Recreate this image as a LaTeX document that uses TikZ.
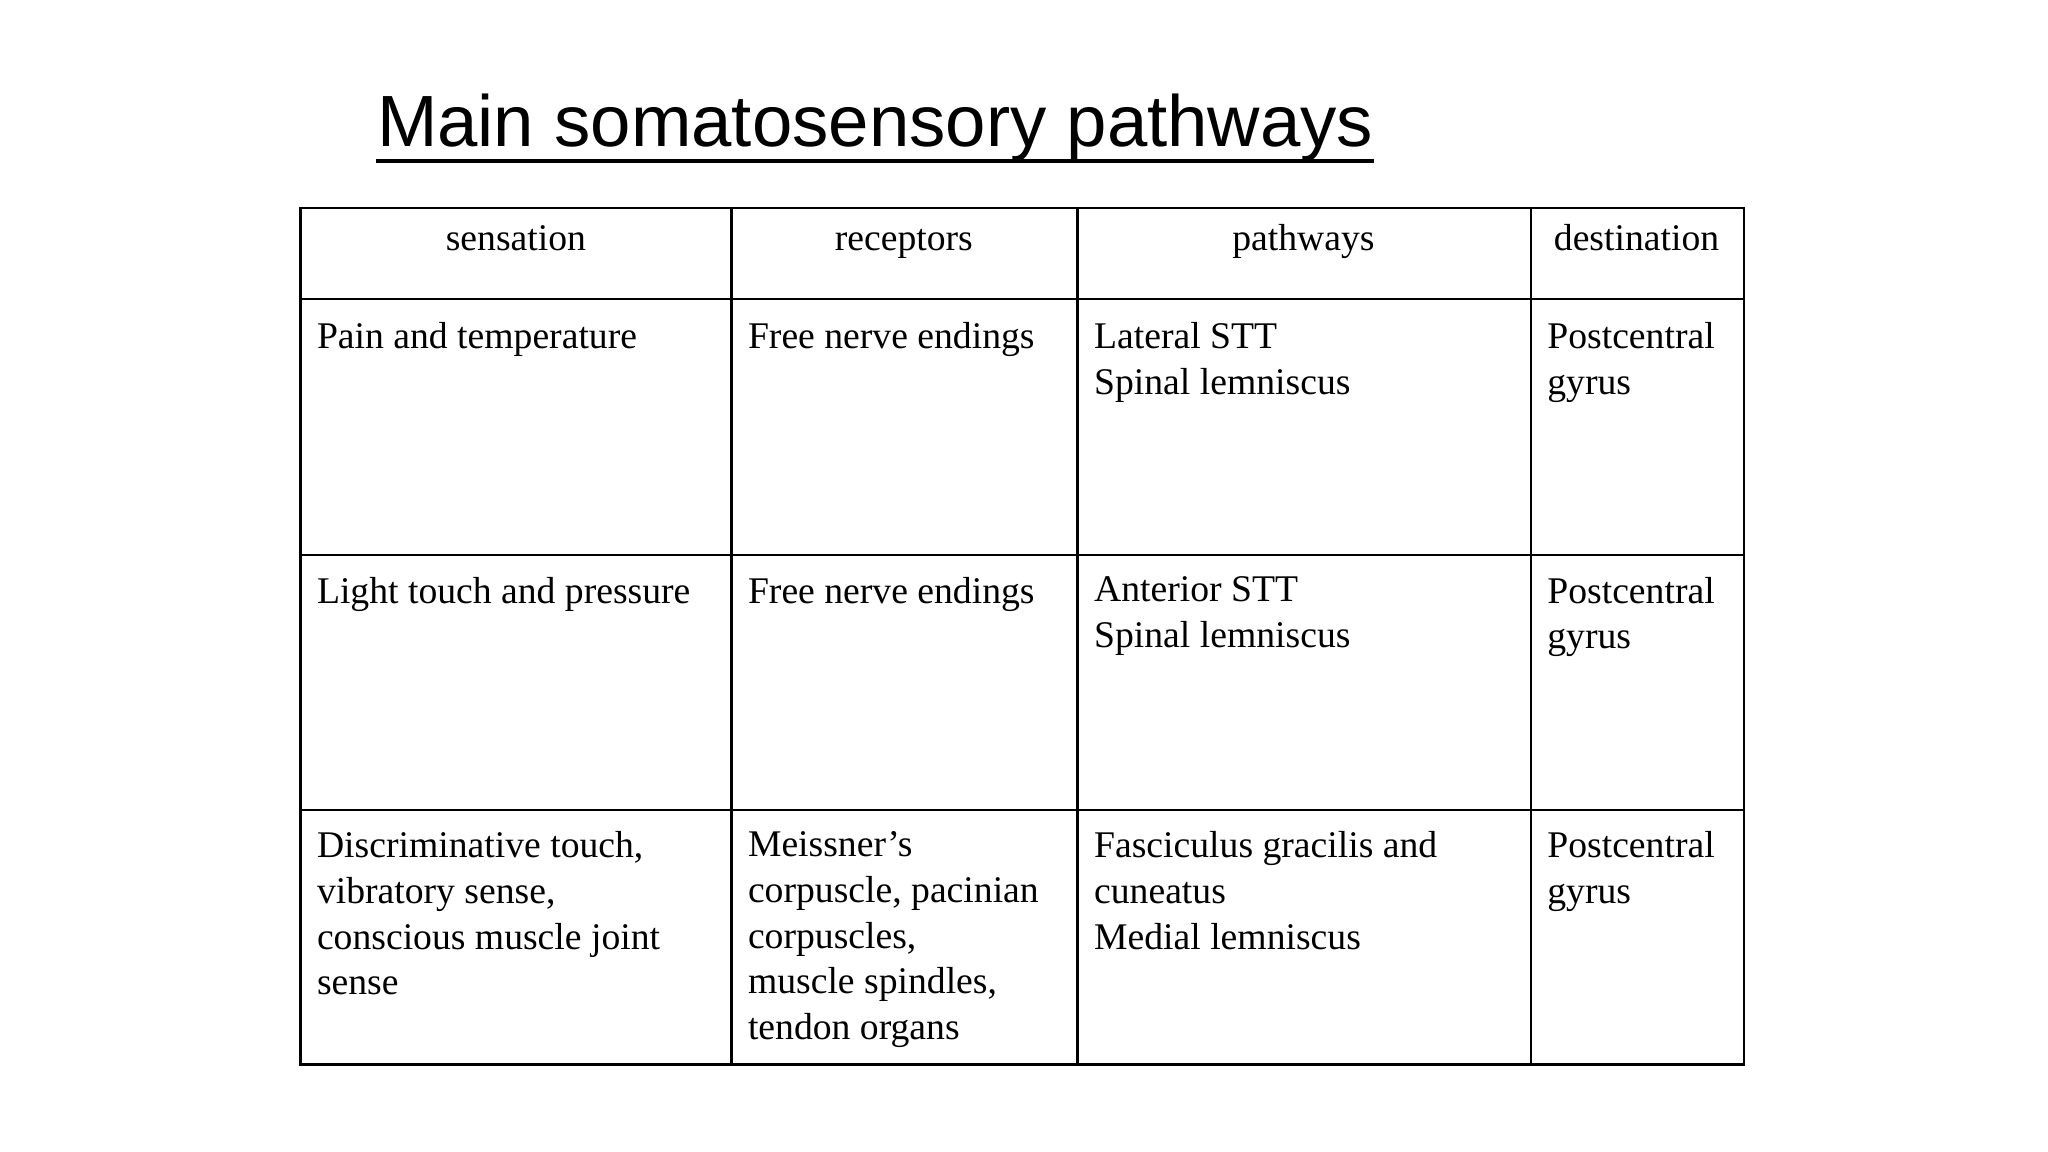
\documentclass[tikz,border=0pt]{standalone}
\usepackage{fontspec}
\setmainfont{Liberation Serif}
\newfontfamily\titlefont{Liberation Sans}
\begin{document}
\begin{tikzpicture}[x=0.01cm,y=-0.01cm,
  cell/.style={anchor=north west,inner sep=0pt,align=left,font=\fontsize{8.2}{9.95}\selectfont},
  head/.style={anchor=base,inner sep=0pt,font=\fontsize{8.2}{9.95}\selectfont},
  grid/.style={line width=0.5pt,black}]
\useasboundingbox (0,0) rectangle (1568,882);
\node[anchor=base west,inner sep=0pt,font=\titlefont\fontsize{15.8}{18}\selectfont] (title) at (288,112) {Main somatosensory pathways};
\draw[line width=0.8pt] (title.south west)++(0,-1) coordinate (u1) -- (title.south east|-u1);
\draw[grid] (230,159) rectangle (1335,815);
\foreach \x in {560,825,1172} \draw[grid] (\x,159) -- (\x,815);
\foreach \y in {229,425,620} \draw[grid] (230,\y) -- (1335,\y);
\node[head] (h1) at (395,192) {sensation};
\node[head] (h2) at (692,192) {receptors};
\node[head] (h3) at (998,192) {pathways};
\node[head] (h4) at (1253,192) {destination};
\foreach \r/\y in {1/246,2/441,3/636}{
  \coordinate (r\r) at (0,\y);}
\node[cell] (a1) at (242,246) {Pain and temperature};
\node[cell] (b1) at (572,246) {Free nerve endings};
\node[cell] (c1) at (837,246) {Lateral STT\\Spinal lemniscus};
\node[cell] (d1) at (1184,246) {Postcentral\\gyrus};
\node[cell] (a2) at (242,441) {Light touch and pressure};
\node[cell] (b2) at (572,441) {Free nerve endings};
\node[cell] (c2) at (837,441) {Anterior STT\\Spinal lemniscus};
\node[cell] (d2) at (1184,441) {Postcentral\\gyrus};
\node[cell] (a3) at (242,636) {Discriminative touch,\\vibratory sense,\\conscious muscle joint\\sense};
\node[cell] (b3) at (572,636) {Meissner’s\\corpuscle, pacinian\\corpuscles,\\muscle spindles,\\tendon organs};
\node[cell] (c3) at (837,636) {Fasciculus gracilis and\\cuneatus\\Medial lemniscus};
\node[cell] (d3) at (1184,636) {Postcentral\\gyrus};
\end{tikzpicture}
\end{document}
